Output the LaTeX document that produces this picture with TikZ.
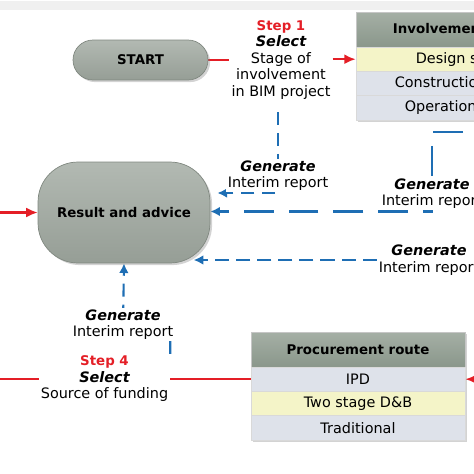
\documentclass[tikz,border=0pt]{standalone}
\usepackage{fontspec}
\setmainfont{DejaVu Sans}
\usepackage{tikz}
\usetikzlibrary{backgrounds}
\usetikzlibrary{arrows.meta}
\usetikzlibrary{shadows}
\definecolor{redLn}{RGB}{228,30,38}
\definecolor{blueLn}{RGB}{30,110,180}
\definecolor{pillTop}{RGB}{178,185,178}
\definecolor{pillBot}{RGB}{150,158,150}
\definecolor{pillEdge}{RGB}{128,136,128}
\definecolor{headTop}{RGB}{165,175,165}
\definecolor{headBot}{RGB}{138,151,139}
\definecolor{rowBlue}{RGB}{222,226,234}
\definecolor{rowYel}{RGB}{244,244,200}
\newcommand{\bigTxt}{\fontsize{8.2}{9.4}\selectfont}
\newcommand{\boldTxt}{\fontsize{7.6}{9.4}\selectfont\bfseries}
\newcommand{\selTxt}{{\bfseries\itshape Select}}
\newcommand{\genRep}{{\bfseries\itshape Generate}\\Interim report}
\tikzstyle{shade}=[drop shadow={shadow xshift=1.2pt, shadow yshift=-1.2pt, opacity=0.35}]
\tikzstyle{pill}=[rectangle, rounded corners=0.4cm, draw=pillEdge, top color=pillTop, bottom color=pillBot, font=\boldTxt, shade]
\tikzstyle{tabhead}=[rectangle, minimum width=4.28cm, minimum height=0.7cm, inner sep=0pt, draw=gray!45, top color=headTop, bottom color=headBot, font=\boldTxt, shade]
\tikzstyle{tabrow}=[rectangle, minimum width=4.28cm, minimum height=0.486cm, inner sep=0pt, draw=gray!30, fill=rowBlue, font=\bigTxt, shade]
\tikzstyle{tabrowY}=[tabrow, fill=rowYel]
\tikzstyle{stepTxt}=[align=center, inner sep=1pt, font=\bigTxt]
\tikzstyle{genTxt}=[align=center, inner sep=1pt, fill=white, font=\bigTxt]
\tikzstyle{redline}=[draw=redLn, line width=1.2pt]
\tikzstyle{redarr}=[redline, -{Latex[length=6.5pt,width=5.7pt]}]
\tikzstyle{bluearr}=[draw=blueLn, line width=1.2pt, -{Latex[length=5.5pt,width=5.5pt]}, dash pattern=on 7.4pt off 4.5pt]
\tikzstyle{bluelong}=[bluearr, dash pattern=on 17pt off 8.5pt]
\begin{document}
\begin{tikzpicture}[x=0.02cm, y=-0.02cm]
	\useasboundingbox (0,0) rectangle (474,474);
	\clip (0,0) rectangle (474,474);
	\fill[black!6] (0,1) rectangle (474,10);
	
	\draw (140.5,60) node[pill, minimum width=2.7cm, minimum height=0.8cm] (start) {START};
	\draw (124,212.5) node[pill, rounded corners=0.8cm, minimum width=3.44cm, minimum height=2.02cm] (result) {Result and advice};
	
	\draw (281,60) node[stepTxt] (step1) {{\boldTxt\color{redLn}Step 1}\\\selTxt\\Stage of\\involvement\\in BIM project};
	\draw (104.5,379) node[stepTxt] (step4) {{\boldTxt\color{redLn}Step 4}\\\selTxt\\Source of funding};
	
	%Involvement table
	\draw (463,29.5) node[tabhead] (inv) {Involvement stage};
	\draw (463,59.2) node[tabrowY] (design) {Design stage};
	\draw (463,83.5) node[tabrow] (constr) {Construction stage};
	\draw (463,107.8) node[tabrow] (oper) {Operation stage};
	
	%Procurement table
	\draw (358,349.5) node[tabhead] (proc) {Procurement route};
	\draw (358,379.2) node[tabrow] (ipd) {IPD};
	\draw (358,403.5) node[tabrowY] (twostage) {Two stage D\&B};
	\draw (358,427.8) node[tabrow] (trad) {Traditional};
	
	\draw (278,175.5) node[genTxt] (gen1) {\genRep};
	\draw (432,193.5) node[genTxt] (gen2) {\genRep};
	\draw (429,260) node[genTxt] (gen3) {\genRep};
	\draw (123,324.5) node[genTxt] (gen4) {\genRep};
	
	\begin{scope}[on background layer]
		\coordinate (in1) at (-10,212.5);
		\coordinate (out4) at (-10,379);
		\coordinate (in4) at (490,379.2);
		\coordinate (c2) at (463,132);
		\coordinate (k1) at (278,193);
		\coordinate (k2) at (432,211.5);
		
		\draw[redarr] (in1) -- (result.west);
		\draw[redline] (start.east) -- (step1.west |- start.east);
		\draw[redarr] (step1.east |- design) -- (design.west);
		\draw[redline] (step4.west) -- (out4);
		\draw[redline] (ipd.west) -- (step4.east |- ipd.west);
		\draw[redarr] (in4) -- (ipd.east);
		
		%Interim reports
		\draw[bluearr, shorten <=6pt, shorten >=4pt] (step1.south -| k1) -- (k1) -- (result.east |- k1);
		\draw[bluelong] (c2) -| (k2) -- (result.east |- k2);
		\draw[bluearr, dash pattern=on 8pt off 4pt, shorten >=-9.5pt] (gen3.west) -- (result.east |- gen3.west);
		\draw[bluearr] (step4.north east) |- (gen4.center) -- (result.south);
	\end{scope}
\end{tikzpicture}
\end{document}
